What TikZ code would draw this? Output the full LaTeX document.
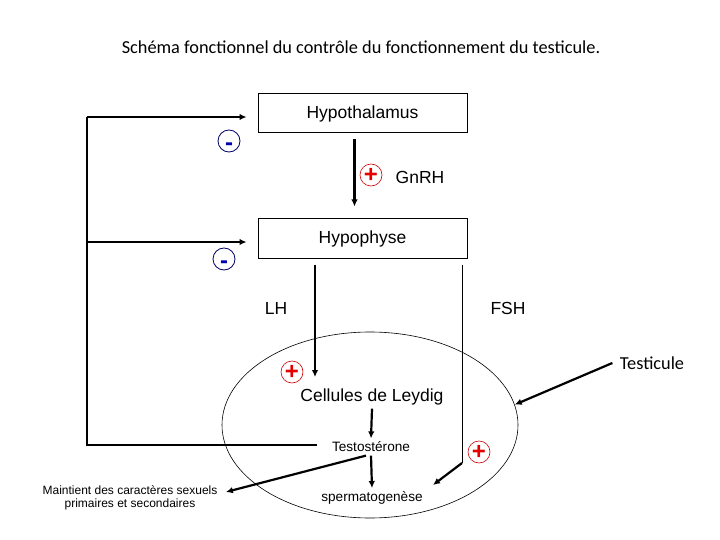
\documentclass[tikz,border=0pt]{standalone}
\usepackage{fontspec}
\setmainfont{Liberation Sans}
\newfontfamily\calibri{Carlito}
\usetikzlibrary{positioning,shapes.geometric,arrows.meta}

\tikzset{
  organ/.style={draw, line width=1pt, minimum width=209pt, minimum height=39pt,
    font=\fontsize{17.5}{20}\selectfont},
  hormone/.style={font=\fontsize{17.5}{20}\selectfont},
  small/.style={font=\fontsize{13.6}{16}\selectfont},
  arr/.style={line width=2.2pt, -{Latex[length=7pt,width=6.5pt]}},
  plain/.style={line width=1pt},
  plus/.style={circle, draw=red!80!black, line width=0.6pt, minimum size=22pt,
    inner sep=0pt, text=red!90!black, font=\bfseries\fontsize{24}{24}\selectfont},
  minus/.style={circle, draw=blue!40!black, line width=0.8pt, minimum size=22pt,
    inner sep=0pt, text height=19pt, text depth=0pt, text=blue!70!black,
    font=\bfseries\fontsize{24}{24}\selectfont}
}

\begin{document}
\begin{tikzpicture}[x=1pt,y=-1pt]
	\useasboundingbox (0,0) rectangle (720,540);
	
	% titre
	\node (title) at (361,47) {\calibri\fontsize{18.3}{21}\selectfont Schéma fonctionnel du contrôle du fonctionnement du testicule.};
	
	% glandes
	\node[organ] (hypothal) at (362.5,113.5) {Hypothalamus};
	\node[organ] (hypoph) at (362.5,238.5) {Hypophyse};
	
	% signes
	\node[minus] (minus1) at (229,141) {-};
	\node[minus] (minus2) at (224,259) {-};
	\node[plus] (plus1) at (371,175) {+};
	\node[hormone] (gnrh) at (420,177) {GnRH};
	\node[hormone] (lh) at (276,308) {LH};
	\node[hormone] (fsh) at (508,308) {FSH};
	
	% testicule
	\node[ellipse, draw, line width=0.6pt, minimum width=296pt, minimum height=186pt] (testis) at (370,425) {};
	\node[plus] (plus2) at (292,372) {+};
	\node[plus] (plus3) at (479,452) {+};
	\node[hormone] (leydig) at (372,397) {Cellules de Leydig};
	\node[small] (testo) at (371,447) {Testostérone};
	\node[small] (sperm) at (372,498) {spermatogenèse};
	\node[align=center, font=\fontsize{12}{12.5}\selectfont] (maint) at (130,498) {Maintient des caractères sexuels\\primaires et secondaires};
	\node (testlabel) at (652,363) {\calibri\fontsize{18.3}{21}\selectfont Testicule};
	
	% commandes
	\draw[arr] ([xshift=-8pt,yshift=-6pt]hypothal.south) -- ([xshift=-8pt,yshift=12pt]hypoph.north);
	\coordinate (lhend) at (315,377);
	\draw[arr] ([yshift=-6pt]hypoph.south -| lhend) -- (lhend);
	\coordinate (fshbend) at (462,463);
	\coordinate (fshend) at (433,485);
	\draw[plain] ([yshift=-6pt]hypoph.south -| fshbend) -- (fshbend);
	\draw[arr] (fshbend) -- (fshend);
	\draw[arr] (leydig.south) -- (testo.north);
	\draw[arr] (testo.south) -- (sperm.north);
	\draw[arr] ([xshift=-5pt]testo.south) -- ([xshift=5pt,yshift=6pt]maint.east);
	\draw[arr] ([xshift=-4pt]testlabel.west) -- (testis.8);
	
	% retrocontrole
	\coordinate (fbcorner) at (87,117);
	\draw[line width=1.3pt] ([xshift=-12pt,yshift=2pt]testo.west) -| (fbcorner);
	\draw[arr, shorten >=11pt] (fbcorner) -- (fbcorner -| hypothal.west);
	\draw[arr, shorten >=11pt] ([yshift=-3.5pt]fbcorner |- hypoph.west) -- ([yshift=-3.5pt]hypoph.west);
\end{tikzpicture}
\end{document}
